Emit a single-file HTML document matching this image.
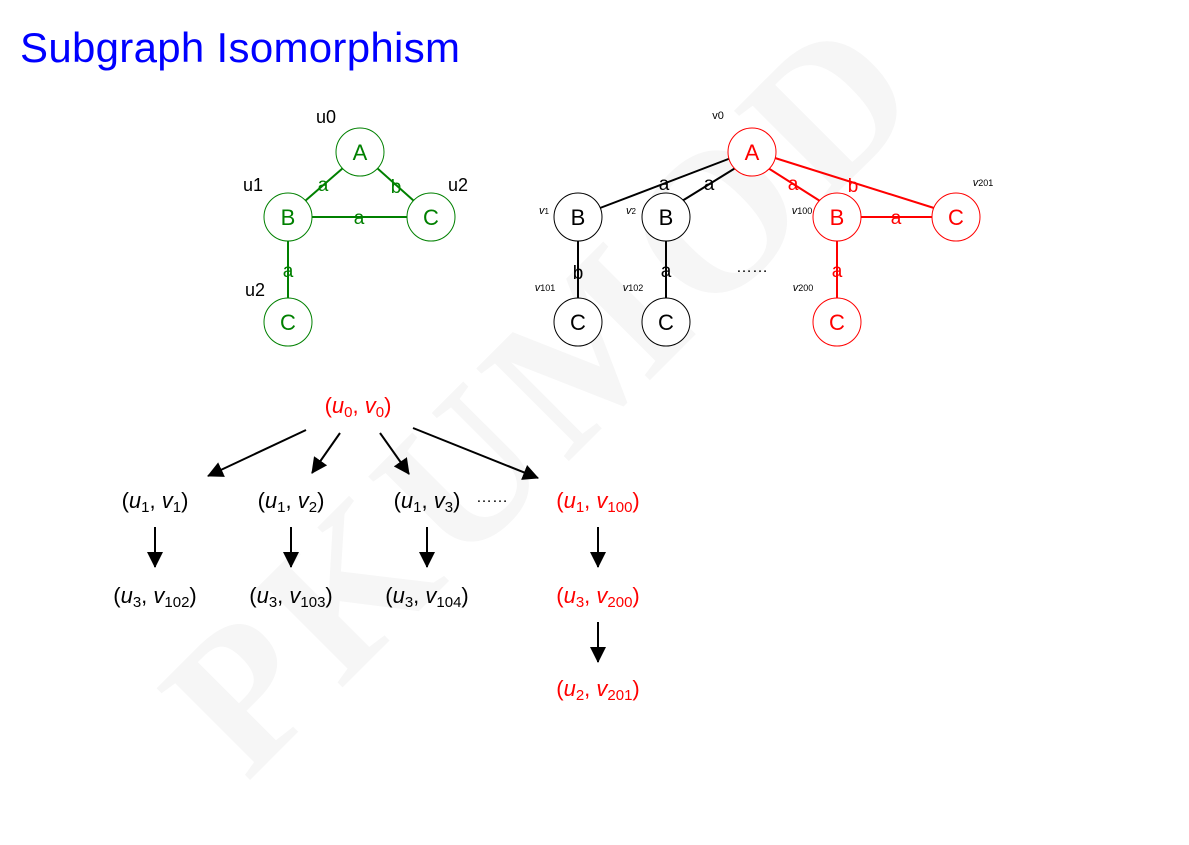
<!DOCTYPE html>
<html><head><meta charset="utf-8"><style>
body{margin:0;background:#fff;width:1189px;height:845px;overflow:hidden;position:relative;font-family:"Liberation Sans",sans-serif}
.t{position:absolute;font-size:22px;white-space:nowrap;transform:translate(-50%,-50%)}
.t i{font-style:italic}
.t sub{font-size:15px;vertical-align:-4px}
.r{color:#f00}
</style></head><body>
<svg width="1189" height="845" style="position:absolute;left:0;top:0">
<text x="590" y="440" font-family="Liberation Serif,serif" font-size="200" font-weight="bold" fill="#f6f6f6" text-anchor="middle" transform="rotate(-45 590 440)" letter-spacing="10">PKUMOD</text>
<text x="20" y="62" font-size="42" fill="#0000ff" font-family="Liberation Sans,sans-serif" textLength="440">Subgraph Isomorphism</text>
<g font-family="Liberation Sans,sans-serif" font-size="22" text-anchor="middle">
<g stroke="#008000" stroke-width="2"><line x1="343" y1="168" x2="305" y2="201"/><line x1="377" y1="168" x2="414" y2="201"/><line x1="312" y1="217" x2="407" y2="217"/><line x1="288" y1="241" x2="288" y2="298"/></g>
<g fill="#fff" stroke="#008000" stroke-width="1"><circle cx="360" cy="152" r="24"/><circle cx="288" cy="217" r="24"/><circle cx="431" cy="217" r="24"/><circle cx="288" cy="322" r="24"/></g>
<g fill="#008000"><text x="360" y="160">A</text><text x="288" y="225">B</text><text x="431" y="225">C</text><text x="288" y="330">C</text>
<text x="323" y="191" font-size="19">a</text><text x="396" y="193" font-size="19">b</text><text x="359" y="224" font-size="19">a</text><text x="288" y="277" font-size="19">a</text></g>
<g fill="#000" font-size="18"><text x="326" y="123">u0</text><text x="253" y="191">u1</text><text x="458" y="191">u2</text><text x="255" y="296">u2</text></g>
<g stroke="#000" stroke-width="2"><line x1="731" y1="158" x2="600" y2="208"/><line x1="737" y1="167" x2="682" y2="201"/><line x1="578" y1="241" x2="578" y2="298"/><line x1="666" y1="241" x2="666" y2="298"/></g>
<g stroke="#f00" stroke-width="2"><line x1="768" y1="168" x2="820" y2="201"/><line x1="775" y1="158" x2="934" y2="208"/><line x1="861" y1="217" x2="932" y2="217"/><line x1="837" y1="241" x2="837" y2="298"/></g>
<g fill="#fff" stroke="#000" stroke-width="1"><circle cx="578" cy="217" r="24"/><circle cx="666" cy="217" r="24"/><circle cx="578" cy="322" r="24"/><circle cx="666" cy="322" r="24"/></g>
<g fill="#fff" stroke="#f00" stroke-width="1"><circle cx="752" cy="152" r="24"/><circle cx="837" cy="217" r="24"/><circle cx="956" cy="217" r="24"/><circle cx="837" cy="322" r="24"/></g>
<g fill="#000"><text x="578" y="225">B</text><text x="666" y="225">B</text><text x="578" y="330">C</text><text x="666" y="330">C</text>
<text x="664" y="190" font-size="19">a</text><text x="709" y="190" font-size="19">a</text><text x="578" y="279" font-size="19">b</text><text x="666" y="277" font-size="19">a</text><text x="752" y="272" font-size="16">……</text></g>
<g fill="#f00"><text x="752" y="160">A</text><text x="837" y="225">B</text><text x="956" y="225">C</text><text x="837" y="330">C</text>
<text x="793" y="190" font-size="19">a</text><text x="853" y="192" font-size="19">b</text><text x="896" y="224" font-size="19">a</text><text x="837" y="277" font-size="19">a</text></g>
<g font-size="11" font-style="italic" fill="#000"><text x="718" y="119" font-style="normal">v0</text><text x="544" y="214">v<tspan font-size="8" font-style="normal">1</tspan></text><text x="631" y="214">v<tspan font-size="8" font-style="normal">2</tspan></text><text x="802" y="214">v<tspan font-size="9" font-style="normal">100</tspan></text><text x="983" y="186">v<tspan font-size="9" font-style="normal">201</tspan></text><text x="545" y="291">v<tspan font-size="9" font-style="normal">101</tspan></text><text x="633" y="291">v<tspan font-size="9" font-style="normal">102</tspan></text><text x="803" y="291">v<tspan font-size="9" font-style="normal">200</tspan></text></g>
</g>
<defs><marker id="a2" markerWidth="16" markerHeight="16" refX="15" refY="8" orient="auto" markerUnits="userSpaceOnUse"><path d="M0,0L16,8L0,16z" fill="#000"/></marker></defs>
<g stroke="#000" stroke-width="2">
<path d="M306,430L208,476" marker-end="url(#a2)"/>
<path d="M340,433L312,473" marker-end="url(#a2)"/>
<path d="M380,433L409,474" marker-end="url(#a2)"/>
<path d="M413,428L538,478" marker-end="url(#a2)"/>
<path d="M155,527L155,567" marker-end="url(#a2)"/>
<path d="M291,527L291,567" marker-end="url(#a2)"/>
<path d="M427,527L427,567" marker-end="url(#a2)"/>
<path d="M598,527L598,567" marker-end="url(#a2)"/>
<path d="M598,622L598,662" marker-end="url(#a2)"/>
</g>
</svg>
<div class="t r" style="left:358px;top:407px">(<i>u</i><sub>0</sub>, <i>v</i><sub>0</sub>)</div>
<div class="t" style="left:155px;top:502px">(<i>u</i><sub>1</sub>, <i>v</i><sub>1</sub>)</div>
<div class="t" style="left:291px;top:502px">(<i>u</i><sub>1</sub>, <i>v</i><sub>2</sub>)</div>
<div class="t" style="left:427px;top:502px">(<i>u</i><sub>1</sub>, <i>v</i><sub>3</sub>)</div>
<div class="t" style="left:492px;top:498px;font-size:16px">……</div>
<div class="t r" style="left:598px;top:502px">(<i>u</i><sub>1</sub>, <i>v</i><sub>100</sub>)</div>
<div class="t" style="left:155px;top:597px">(<i>u</i><sub>3</sub>, <i>v</i><sub>102</sub>)</div>
<div class="t" style="left:291px;top:597px">(<i>u</i><sub>3</sub>, <i>v</i><sub>103</sub>)</div>
<div class="t" style="left:427px;top:597px">(<i>u</i><sub>3</sub>, <i>v</i><sub>104</sub>)</div>
<div class="t r" style="left:598px;top:597px">(<i>u</i><sub>3</sub>, <i>v</i><sub>200</sub>)</div>
<div class="t r" style="left:598px;top:690px">(<i>u</i><sub>2</sub>, <i>v</i><sub>201</sub>)</div>
</body></html>
